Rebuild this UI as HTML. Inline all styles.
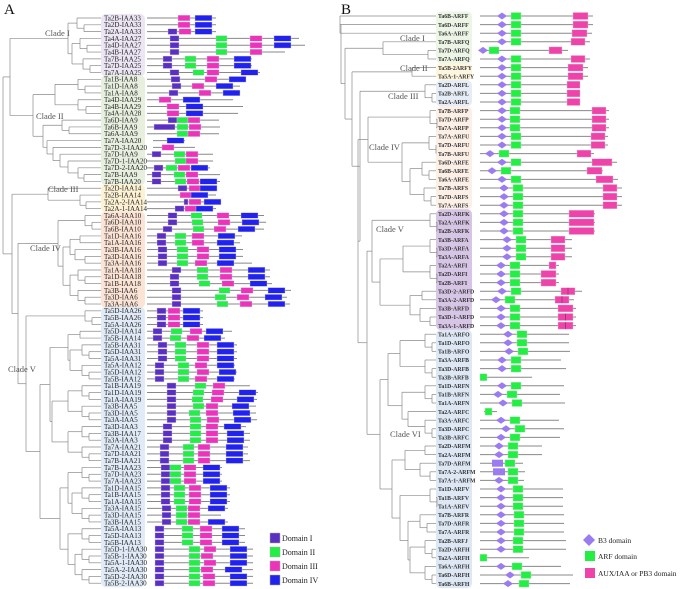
<!DOCTYPE html>
<html><head><meta charset="utf-8"><style>
html,body{margin:0;padding:0;background:#fff;}
svg{display:block;}
text{font-family:"Liberation Serif",serif;}
</style></head><body>
<svg id="fig" width="685" height="589" viewBox="0 0 685 589" xmlns="http://www.w3.org/2000/svg">
<text x="4" y="14" font-size="15" fill="#111">A</text>
<text x="341" y="14" font-size="15" fill="#111">B</text>
<g id="bgA"></g><g id="bgB"></g><g id="treeA"></g><g id="treeB"></g><g id="genesA"></g><g id="genesB"></g><g id="labels"></g>
<g>
<rect x="270" y="533" width="10" height="10" fill="#5a2fc2" stroke="#aaa" stroke-width="0.5"/>
<text x="282" y="541" font-size="8" fill="#222">Domain I</text>
<rect x="270" y="547" width="10" height="10" fill="#22ee44" stroke="#aaa" stroke-width="0.5"/>
<text x="282" y="555" font-size="8" fill="#222">Domain II</text>
<rect x="270" y="561" width="10" height="10" fill="#ee33bb" stroke="#aaa" stroke-width="0.5"/>
<text x="282" y="569" font-size="8" fill="#222">Domain III</text>
<rect x="270" y="575" width="10" height="10" fill="#2222ee" stroke="#aaa" stroke-width="0.5"/>
<text x="282" y="583" font-size="8" fill="#222">Domain IV</text>
</g>
<g>
<polygon points="583,540 589,534 595,540 589,546" fill="#9b7cf0"/>
<text x="598" y="543" font-size="7.5" fill="#222">B3 domain</text>
<rect x="585" y="551" width="10" height="10" fill="#22ee44"/>
<text x="598" y="559" font-size="7.5" fill="#222">ARF domain</text>
<rect x="585" y="568" width="10" height="10" fill="#ee44aa"/>
<text x="598" y="576" font-size="7.5" fill="#222">AUX/IAA or PB3 domain</text>
</g>
</svg>
<script>
const NS="http://www.w3.org/2000/svg";
// Panel A: [name, lineEnd, domainI, domainII, domainIII, domainIV] (start positions, 0 = absent)
const rowsA=[
["Ta2B-IAA33",216,0,0,178,195],["Ta2D-IAA33",216,0,0,178,195],["Ta2A-IAA33",216,168,0,179,195],
["Ta4A-IAA27",299,170,216,250,274],["Ta4D-IAA27",305,170,216,250,274],["Ta4B-IAA27",285,170,216,250,0],
["Ta7B-IAA25",252,163,185,207,234],["Ta7D-IAA25",252,163,185,207,234],["Ta7A-IAA25",260,170,193,207,241],
["Ta1B-IAA8",246,171,0,205,229],["Ta1D-IAA8",240,172,0,192,216],["Ta1A-IAA8",240,169,0,199,223],
["Ta4D-IAA29",233,0,0,159,183],["Ta4B-IAA29",243,0,0,167,186],["Ta4A-IAA28",238,0,0,167,186],
["Ta6D-IAA9",219,168,177,188,0],["Ta6B-IAA9",220,[154,21],177,189,0],["Ta6A-IAA9",219,0,177,188,0],
["Ta7A-IAA20",185,0,0,0,167],["Ta7D-3-IAA20",195,0,0,162,0],["Ta7D-IAA9",213,152,174,186,0],
["Ta7D-1-IAA20",213,0,175,186,0],["Ta7D-2-IAA20",210,154,166,178,191],["Ta7B-IAA9",220,152,174,186,0],
["Ta7B-IAA20",220,152,175,187,200],["Ta2D-IAA14",216,178,0,189,200],["Ta2B-IAA14",216,0,0,180,191],
["Ta2A-2-IAA14",220,[184,4],0,189,204],["Ta2A-1-IAA14",216,175,0,185,196],
["Ta6A-IAA10",264,168,191,217,241],["Ta6D-IAA10",266,168,192,218,242],["Ta6B-IAA10",264,163,193,214,238],
["Ta1D-IAA16",242,157,175,192,218],["Ta1A-IAA16",240,157,175,192,217],["Ta3B-IAA16",243,158,177,197,219],
["Ta3D-IAA16",243,158,177,197,219],["Ta3A-IAA16",252,158,177,195,217],
["Ta1A-IAA18",270,172,197,220,248],["Ta1D-IAA18",270,170,197,220,248],["Ta1B-IAA18",272,170,199,222,250],
["Ta3B-IAA6",291,172,219,241,268],["Ta3D-IAA6",287,172,215,237,265],["Ta3A-IAA6",290,172,217,240,268],
["Ta5D-IAA26",203,157,0,168,183],["Ta5B-IAA26",203,157,0,168,183],["Ta5A-IAA26",203,157,0,168,183],
["Ta5D-IAA14",232,153,171,190,206],["Ta5B-IAA14",225,153,170,187,204],
["Ta5B-IAA31",237,158,175,197,217],["Ta5D-IAA31",237,158,175,197,217],["Ta5A-IAA31",237,158,175,197,217],
["Ta5A-IAA12",235,155,178,195,217],["Ta5D-IAA12",237,155,178,197,219],["Ta5B-IAA12",235,155,178,195,217],
["Ta1B-IAA19",250,167,195,213,0],["Ta1D-IAA19",258,167,193,212,239],["Ta1A-IAA19",257,167,192,211,237],
["Ta3B-IAA5",256,167,193,206,232],["Ta3D-IAA5",256,167,189,206,233],["Ta3A-IAA5",257,167,190,207,234],
["Ta3D-IAA3",246,163,190,206,224],["Ta3B-IAA17",250,163,190,206,227],["Ta3A-IAA3",250,163,190,206,227],
["Ta7A-IAA21",248,160,183,198,226],["Ta7D-IAA21",248,160,183,198,226],["Ta7B-IAA21",250,160,183,198,226],
["Ta7B-IAA23",222,161,170,184,203],["Ta7D-IAA23",222,161,170,184,203],["Ta7A-IAA23",222,161,170,184,203],
["Ta1D-IAA15",230,161,174,189,210],["Ta1B-IAA15",230,161,174,189,210],["Ta1A-IAA15",230,161,174,189,210],
["Ta3A-IAA15",228,162,176,188,208],["Ta3D-IAA15",221,162,176,188,0],["Ta3B-IAA15",228,162,176,188,208],
["Ta5A-IAA13",245,155,182,200,222],["Ta5D-IAA13",245,155,182,200,222],["Ta5B-IAA13",245,155,182,200,222],
["Ta5D-1-IAA30",253,155,189,204,230],["Ta5B-1-IAA30",253,155,189,201,230],["Ta5A-1-IAA30",253,155,189,204,230],
["Ta5A-2-IAA30",253,155,189,201,225],["Ta5D-2-IAA30",253,155,189,203,230],["Ta5B-2-IAA30",253,155,189,203,230]
];
// Panel B: [name, lineStart, lineEnd, B3 center (0 none, [s,e] rect), ARF start, AUX start, AUX width, divider]
const rowsB=[
["Ta6B-ARFF",480,593,502,511,573,15],["Ta6D-ARFF",480,593,502,511,573,15],["Ta6A-ARFF",480,592,502,511,572,15],
["Ta7B-ARFQ",480,590,502,511,571,14],["Ta7D-ARFQ",480,568,483,489,549,13],["Ta7A-ARFQ",480,590,502,511,571,14],
["Ta5B-2ARFY",480,588,502,511,568,15],["Ta5A-1-ARFY",480,588,502,511,568,15],
["Ta2D-ARFL",480,580,502,511,567,13],["Ta2B-ARFL",480,580,502,511,567,13],["Ta2A-ARFL",480,580,502,511,567,13],
["Ta7B-ARFP",480,609,502,510,592,14],["Ta7D-ARFP",480,609,502,510,592,14],["Ta7A-ARFP",480,609,502,510,592,14],
["Ta7A-ARFU",480,608,502,511,591,14],["Ta7D-ARFU",480,608,502,511,591,14],["Ta7B-ARFU",480,594,490,499,577,14],
["Ta6D-ARFE",480,617,502,511,592,20],["Ta6B-ARFE",480,603,492,501,587,15],["Ta6A-ARFE",480,618,502,511,596,17],
["Ta7B-ARFS",480,622,504,513,603,14],["Ta7D-ARFS",480,622,504,513,603,14],["Ta7A-ARFS",480,622,504,513,603,14],
["Ta2D-ARFK",480,595,504,513,569,25],["Ta2A-ARFK",480,595,504,513,569,25],["Ta2B-ARFK",480,595,504,513,569,25],
["Ta3B-ARFA",480,572,507,516,551,14],["Ta3D-ARFA",480,572,507,516,551,14],["Ta3A-ARFA",480,572,507,516,551,14],
["Ta2A-ARFI",480,559,501,510,549,7],["Ta2D-ARFI",480,559,501,510,541,15],["Ta2B-ARFI",480,559,501,510,541,15],
["Ta3D-2-ARFD",480,582,502,511,561,14,1],["Ta3A-2-ARFD",480,574,496,505,555,14,1],["Ta3B-ARFD",480,576,501,510,558,15],
["Ta3D-1-ARFD",480,576,501,510,558,15,1],["Ta3A-1-ARFD",480,576,501,510,558,15,1],
["Ta1A-ARFO",480,569,508,517,0,0],["Ta1D-ARFO",480,569,508,517,0,0],["Ta1B-ARFO",480,570,509,518,0,0],
["Ta3A-ARFB",480,561,502,511,0,0],["Ta3D-ARFB",480,566,502,511,0,0],["Ta3B-ARFB",480,532,0,480,0,0],
["Ta1D-ARFN",480,564,502,511,0,0],["Ta1B-ARFN",480,560,498,507,0,0],["Ta1A-ARFN",480,565,503,512,0,0],
["Ta2A-ARFC",484,497,0,485,0,0],["Ta3A-ARFC",480,559,501,510,0,0],["Ta3D-ARFC",480,564,506,515,0,0],
["Ta3B-ARFC",480,560,501,510,0,0],["Ta2D-ARFM",480,542,499,508,0,0],["Ta2A-ARFM",480,542,499,508,0,0],
["Ta7D-ARFM",480,523,[492,503],505,0,0],["Ta7A-2-ARFM",480,525,[493,505],508,0,0],["Ta7A-1-ARFM",480,524,499,508,0,0],
["Ta1D-ARFV",480,563,501,513,0,0],["Ta1B-ARFV",480,563,501,513,0,0],["Ta1A-ARFV",480,563,501,513,0,0],
["Ta7B-ARFR",480,564,501,514,0,0],["Ta7D-ARFR",480,564,501,514,0,0],["Ta7A-ARFR",480,564,501,514,0,0],
["Ta2B-ARFJ",480,566,501,513,0,0],["Ta2D-ARFH",480,566,501,513,0,0],["Ta2A-ARFH",480,529,0,480,0,0],
["Ta6A-ARFH",480,561,501,512,0,0],["Ta6D-ARFH",480,573,510,521,0,0],["Ta6B-ARFH",480,570,508,519,0,0]
];
const cladesA=[["Clade I",0,8,"#ece5f4",45,36],["Clade II",9,24,"#e7efdf",36,119],["Clade III",25,28,"#fdf2d4",48,192],["Clade IV",29,42,"#fbe3d5",30,251],["Clade V",43,83,"#e1ebf7",8,372]];
const cladesB=[["Clade I",0,5,"#edf5e6",400,41],["Clade II",6,7,"#fdf5de",400,71],["Clade III",8,10,"#e6edf7",388,99],["Clade IV",11,22,"#fcefe6",369,150],["Clade V",23,36,"#d7c5e6",376,232],["Clade VI",37,66,"#dee8f5",390,437]];

const yA=i=>18+i*6.81, yB=i=>16+i*8.6;
function el(tag,attrs,parent){const e=document.createElementNS(NS,tag);for(const k in attrs)e.setAttribute(k,attrs[k]);parent.appendChild(e);return e;}
const G=id=>document.getElementById(id);

// highlights
cladesA.forEach(c=>{const r=el('rect',{x:101,y:yA(c[1])-4,width:44,height:yA(c[2])-yA(c[1])+8,rx:5,fill:c[3]},G('bgA'));


const t=el('text',{x:c[4],y:c[5],'font-size':8.5,fill:'#555'},G('labels'));t.textContent=c[0];

});
cladesB.forEach(c=>{const r=el('rect',{x:436,y:yB(c[1])-4.5,width:36,height:yB(c[2])-yB(c[1])+9,rx:5,fill:c[3]},G('bgB'));


const t=el('text',{x:c[4],y:c[5],'font-size':8.5,fill:'#555'},G('labels'));t.textContent=c[0];

});

// trees
const t3=(i,x)=>({x:x,c:[i,{x:x+7,c:[i+1,i+2]}]});
const cI={x:68,c:[t3(0,77),{x:72,c:[t3(3,80),t3(6,83)]}]};
const cII={x:33,c:[{x:55,c:[t3(9,78),{x:78,c:[12,{x:86,c:[13,14]}]}]},{x:43,c:[t3(15,62),{x:47,c:[18,{x:53,c:[19,{x:60,c:[20,{x:68,c:[21,{x:78,c:[22,{x:84,c:[23,24]}]}]}]}]}]}]}]};
const cIII={x:48,c:[25,{x:80,c:[26,{x:86,c:[27,28]}]}]};
const cIV={x:25,c:[{x:58,c:[t3(29,85),{x:63,c:[{x:70,c:[{x:80,c:[32,33]},{x:75,c:[34,{x:85,c:[35,36]}]}]},{x:70,c:[t3(37,78),t3(40,78)]}]}]}]};
const cV={x:26,c:[t3(43,85),{x:40,c:[{x:50,c:[{x:68,c:[{x:80,c:[46,47]},{x:70,c:[t3(48,82),t3(51,82)]}]},{x:52,c:[{x:68,c:[t3(54,82),t3(57,82)]},{x:68,c:[t3(60,82),t3(63,82)]}]}]},{x:52,c:[{x:60,c:[{x:68,c:[t3(66,82),{x:72,c:[t3(69,82),t3(72,82)]}]},{x:68,c:[t3(75,82),{x:75,c:[t3(78,82),t3(81,82)]}]}]}]}]}]};
const treeA={x:3,c:[{x:10,c:[cI,cII]},{x:12,c:[cIII,{x:18,c:[cIV,cV]}]}]};
const bIV={x:368,c:[t3(11,430),{x:402,c:[t3(14,429),{x:410,c:[t3(17,422),t3(20,424)]}]}]};
const bV={x:372,c:[t3(23,430),{x:380,c:[{x:403,c:[t3(26,430),t3(29,430)]},{x:410,c:[{x:422,c:[32,33]},{x:420,c:[34,{x:430,c:[35,36]}]}]}]}]};
const bVI={x:380,c:[{x:388,c:[{x:400,c:[t3(37,425),t3(40,425)]},{x:402,c:[t3(43,425),{x:408,c:[46,t3(47,425)]}]}]},{x:392,c:[{x:405,c:[{x:425,c:[50,51]},{x:420,c:[52,{x:430,c:[53,54]}]}]},{x:400,c:[t3(55,430),{x:408,c:[t3(58,420),{x:410,c:[t3(61,425),t3(64,425)]}]}]}]}]};
const treeB={x:341,c:[{x:340,c:[0,1,2]},{x:345,c:[{x:383,c:[3,{x:428,c:[4,5]}]},{x:352,c:[{x:412,c:[6,7]},{x:360,c:[{x:425,c:[8,{x:432,c:[9,10]}]},{x:358,c:[bIV,{x:367,c:[bV,bVI]}]}]}]}]}]};
function draw(node,yf,leafX,g){
  if(typeof node==='number')return yf(node);
  const ys=node.c.map(ch=>{const y=draw(ch,yf,leafX,g);const x2=typeof ch==='number'?leafX:ch.x;
    const l=el('line',{x1:node.x,y1:y,x2:x2,y2:y,stroke:'#8a8a8a','stroke-width':0.7},g);
    
    
    return y;});
  const v=el('line',{x1:node.x,y1:Math.min(...ys),x2:node.x,y2:Math.max(...ys),stroke:'#8a8a8a','stroke-width':0.7},g);
  
  
  return (Math.min(...ys)+Math.max(...ys))/2;
}
draw(treeA,yA,101,G('treeA'));
draw(treeB,yB,436,G('treeB'));

// genes A
const colA=['#5a2fc2','#22ee44','#ee33bb','#2222ee'],wA=[9,11,12,17];
rowsA.forEach((r,i)=>{const y=yA(i);const s=(i===18||i===19)?153:(i>=75?155:147);
  const l=el('line',{x1:s,y1:y,x2:r[1],y2:y,stroke:'#888','stroke-width':1},G('genesA'));
  
  
  for(let d=0;d<4;d++){const v=r[2+d];if(!v)continue;const x=Array.isArray(v)?v[0]:v,w=Array.isArray(v)?v[1]:wA[d];
    const b=el('rect',{x:x,y:y-2.8,width:w,height:5.6,fill:colA[d],stroke:'#c8c8e8','stroke-width':0.4},G('genesA'));
    
    }
  const t=el('text',{x:104,y:y+2.4,'font-size':7,fill:'#222'},G('labels'));t.textContent=r[0];
  
  
});
// genes B
rowsB.forEach((r,i)=>{const y=yB(i);
  const l=el('line',{x1:r[1],y1:y,x2:r[2],y2:y,stroke:'#888','stroke-width':1},G('genesB'));
  
  
  if(Array.isArray(r[3])){const b=el('rect',{x:r[3][0],y:y-3.5,width:r[3][1]-r[3][0],height:7,fill:'#9b7cf0'},G('genesB'));
    
    }
  else if(r[3]){const c=r[3];const p=el('polygon',{points:`${c-5},${y} ${c},${y-3.5} ${c+5},${y} ${c},${y+3.5}`,fill:'#9b7cf0'},G('genesB'));
    
    }
  const gw=(r[4]===480||r[4]===485)?7:10;
  const g=el('rect',{x:r[4],y:y-3.5,width:gw,height:7,fill:'#22ee44',stroke:'#bfe8bf','stroke-width':0.4},G('genesB'));
  
  
  if(r[5]){const m=el('rect',{x:r[5],y:y-3.5,width:r[6],height:7,fill:'#ee44aa',stroke:'#e8b8d8','stroke-width':0.4},G('genesB'));
    
    
    if(r[7]){const dv=el('line',{x1:r[5]+r[6]/2,y1:y-3.5,x2:r[5]+r[6]/2,y2:y+3.5,stroke:'#7a2a5a','stroke-width':0.6},G('genesB'));
      
      }}
  const t=el('text',{x:438,y:y+2.2,'font-size':5.8,'font-weight':'bold',fill:'#333'},G('labels'));t.textContent=r[0];
  
  
});
</script>
</body></html>
